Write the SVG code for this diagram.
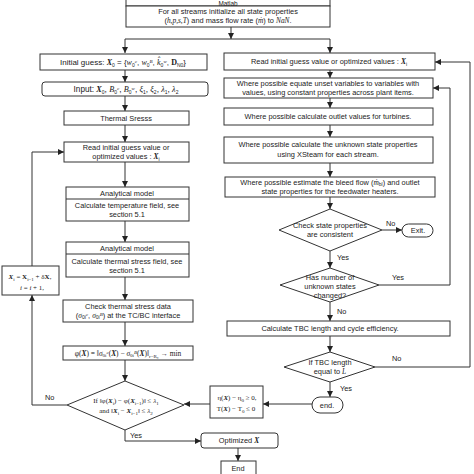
<svg xmlns="http://www.w3.org/2000/svg" width="474" height="474" viewBox="0 0 474 474">
<defs>
<marker id="ah" markerWidth="6" markerHeight="6" refX="6" refY="3" orient="auto" markerUnits="userSpaceOnUse">
<path d="M0,0 L6,3 L0,6 z" fill="#222"/>
</marker>
<style>
.b{fill:#fff;stroke:#333;stroke-width:1}
.t{font-family:"Liberation Sans",Arial,sans-serif;font-size:7.4px;fill:#222;text-anchor:middle}
.m{font-family:"Liberation Serif","Times New Roman",serif;font-style:italic}
.r{font-family:"Liberation Serif","Times New Roman",serif}
.bo{font-weight:bold}
.s{font-size:5px}
.l{font-family:"Liberation Sans",Arial,sans-serif;font-size:7.4px;fill:#222}
.c{fill:none;stroke:#333;stroke-width:1}
.a{marker-end:url(#ah)}
</style>
</defs>
<rect width="474" height="474" fill="#fff"/>

<g id="connectors">
<path class="c a" d="M231,27 V39"/>
<path class="c" d="M125,39 H330"/>
<path class="c a" d="M125,39 V53"/>
<path class="c a" d="M330,39 V53"/>
<path class="c a" d="M125,70 V82"/>
<path class="c a" d="M125,96 V111"/>
<path class="c a" d="M125,125 V142"/>
<path class="c a" d="M125,162 V187"/>
<path class="c a" d="M125,221 V242"/>
<path class="c a" d="M125,277 V300"/>
<path class="c a" d="M125,322 V346"/>
<path class="c a" d="M125,360 V381"/>
<path class="c a" d="M67,405 H32 V295"/>
<path class="c a" d="M32,266 V152 H64"/>
<path class="c a" d="M125,430 V441 H201"/>
<path class="c a" d="M238,448 V461"/>
<path class="c a" d="M210,404 H184"/>
<path class="c a" d="M312,404 H263"/>
<path class="c a" d="M330,70 V78"/>
<path class="c a" d="M330,98 V108"/>
<path class="c a" d="M330,125 V137"/>
<path class="c a" d="M330,163 V177"/>
<path class="c a" d="M330,197 V209"/>
<path class="c a" d="M382,230 H402"/>
<path class="c a" d="M330,251 V268"/>
<path class="c a" d="M379,285 H450 V88 H433"/>
<path class="c a" d="M330,302 V321"/>
<path class="c a" d="M330,336 V352"/>
<path class="c a" d="M375,367 H470 V62 H435"/>
<path class="c a" d="M330,382 V397"/>
</g>

<g id="labels">
<text class="l" x="45" y="400">No</text>
<text class="l" x="130" y="438">Yes</text>
<text class="l" x="386" y="226">No</text>
<text class="l" x="337" y="260">Yes</text>
<text class="l" x="392" y="280">Yes</text>
<text class="l" x="337" y="314">No</text>
<text class="l" x="392" y="361">No</text>
<text class="l" x="340" y="391">Yes</text>
</g>

<g id="matlab">
<rect class="b" x="126" y="-4" width="204" height="10"/>
<text class="t" x="228" y="5.5" style="font-size:6.4px">Matlab</text>
</g>
<g id="init-streams">
<rect class="b" x="126" y="6" width="204" height="21"/>
<text class="t" x="228" y="14">For all streams initialize all state properties</text>
<text class="t" x="228" y="23">(<tspan class="m">h,p,s,T</tspan>) and mass flow rate (<tspan class="m">ṁ</tspan>) to <tspan class="m">NaN</tspan>.</text>
</g>

<g id="initial-guess">
<rect class="b" x="40" y="54" width="167" height="16"/>
<text class="t" x="123" y="65" style="font-size:8px">Initial guess: <tspan class="m bo">X</tspan><tspan class="s" dy="1.5">0</tspan><tspan dy="-1.5"> = {</tspan><tspan class="m">w</tspan><tspan class="s" dy="1.5">0</tspan><tspan class="s m" dy="-4">c</tspan><tspan dy="2.5">, </tspan><tspan class="m">w</tspan><tspan class="s" dy="1.5">0</tspan><tspan class="s m" dy="-4">B</tspan><tspan dy="2.5">, </tspan><tspan class="m">k̂</tspan><tspan class="s" dy="1.5">0</tspan><tspan class="s m" dy="-4">w</tspan><tspan dy="2.5">,  </tspan><tspan class="r bo">D</tspan><tspan class="s" dy="1.5">N0</tspan><tspan dy="-1.5">}</tspan></text>
</g>

<g id="input">
<rect class="b" x="42" y="82" width="166" height="14" rx="3"/>
<text class="t" x="126" y="92" style="font-size:8.2px">Input: <tspan class="m bo">X</tspan><tspan class="s" dy="1.5">0</tspan><tspan dy="-1.5">,  </tspan><tspan class="m">B</tspan><tspan class="s" dy="1.5">0</tspan><tspan class="s m" dy="-4">c</tspan><tspan dy="2.5">,  </tspan><tspan class="m">B</tspan><tspan class="s" dy="1.5">0</tspan><tspan class="s m" dy="-4">w</tspan><tspan dy="2.5">, </tspan><tspan class="m">ξ</tspan><tspan class="s" dy="1.5">1</tspan><tspan dy="-1.5">, </tspan><tspan class="m">ξ</tspan><tspan class="s" dy="1.5">2</tspan><tspan dy="-1.5">,  </tspan><tspan class="m">λ</tspan><tspan class="s" dy="1.5">1</tspan><tspan dy="-1.5">,  </tspan><tspan class="m">λ</tspan><tspan class="s" dy="1.5">2</tspan></text>
</g>

<g id="thermal-stress">
<rect class="b" x="64" y="111" width="125" height="14"/>
<text class="t" x="126" y="121">Thermal Sresss</text>
</g>

<g id="read-left">
<rect class="b" x="64" y="142" width="125" height="20"/>
<text class="t" x="126" y="150">Read initial guess value or</text>
<text class="t" x="126" y="159">optimized values : <tspan class="m bo">X</tspan><tspan class="s" dy="1.5">i</tspan></text>
</g>

<g id="analytical-temp">
<rect class="b" x="66" y="187" width="123" height="34"/>
<line class="c" x1="66" y1="199" x2="189" y2="199"/>
<text class="t" x="127" y="196">Analytical model</text>
<text class="t" x="127" y="208">Calculate temperature field, see</text>
<text class="t" x="127" y="217">section 5.1</text>
</g>

<g id="analytical-stress">
<rect class="b" x="66" y="242" width="123" height="35"/>
<line class="c" x1="66" y1="254" x2="189" y2="254"/>
<text class="t" x="127" y="251">Analytical model</text>
<text class="t" x="127" y="264">Calculate thermal stress field, see</text>
<text class="t" x="127" y="273">section 5.1</text>
</g>

<g id="check-stress">
<rect class="b" x="63" y="300" width="130" height="22"/>
<text class="t" x="128" y="309">Check thermal stress data</text>
<text class="t" x="128" y="318">(<tspan class="m">σ</tspan><tspan class="s" dy="1">0i</tspan><tspan class="s m" dy="-3.5">c</tspan><tspan dy="2.5">, </tspan><tspan class="m">σ</tspan><tspan class="s" dy="1">0i</tspan><tspan class="s m" dy="-3.5">B</tspan><tspan dy="2.5">) at the TC/BC interface</tspan></text>
</g>

<g id="objective">
<rect class="b" x="63" y="346" width="130" height="14"/>
<text class="t" x="128" y="356" style="font-family:'Liberation Serif',serif">φ(<tspan class="m bo">X</tspan>) = ‖<tspan class="m">σ</tspan><tspan class="s" dy="1">0i</tspan><tspan class="s m" dy="-3.5">c</tspan><tspan dy="2.5">(</tspan><tspan class="m bo">X</tspan>) − <tspan class="m">σ</tspan><tspan class="s" dy="1">0i</tspan><tspan class="s m" dy="-3.5">B</tspan><tspan dy="2.5">(</tspan><tspan class="m bo">X</tspan>)‖<tspan class="s" dy="1.5">r=R₀</tspan><tspan dy="-1.5"> → min</tspan></text>
</g>

<g id="convergence">
<polygon class="b" points="125,381 184,405 125,430 67,405"/>
<text class="t" x="126" y="403" style="font-family:'Liberation Serif',serif;font-size:7px">If  ‖φ(<tspan class="m bo">X</tspan><tspan class="s" dy="1.5">i</tspan><tspan dy="-1.5">) − φ(</tspan><tspan class="m bo">X</tspan><tspan class="s" dy="1.5">i−1</tspan><tspan dy="-1.5">)‖ ≤ </tspan><tspan class="m">λ</tspan><tspan class="s" dy="1.5">1</tspan></text>
<text class="t" x="126" y="413" style="font-family:'Liberation Serif',serif;font-size:7px">and  ‖<tspan class="m bo">X</tspan><tspan class="s" dy="1.5">i</tspan><tspan dy="-1.5"> − </tspan><tspan class="m bo">X</tspan><tspan class="s" dy="1.5">i−1</tspan><tspan dy="-1.5">‖ ≤ </tspan><tspan class="m">λ</tspan><tspan class="s" dy="1.5">2</tspan></text>
</g>

<g id="update">
<rect class="b" x="2" y="266" width="57" height="29"/>
<text class="t" x="30" y="279" style="font-family:'Liberation Serif',serif;font-size:7px"><tspan class="m bo">X</tspan><tspan class="s" dy="1.5">i</tspan><tspan dy="-1.5"> = </tspan><tspan class="bo">X</tspan><tspan class="s" dy="1.5">i−1</tspan><tspan dy="-1.5"> + δ</tspan><tspan class="bo">X</tspan>,</text>
<text class="t" x="32" y="290" style="font-family:'Liberation Serif',serif;font-size:7px"><tspan class="m">i</tspan> = <tspan class="m">i</tspan> + 1,</text>
</g>

<g id="constraints">
<rect class="b" x="210" y="386" width="53" height="32"/>
<text class="t" x="237" y="400" style="font-family:'Liberation Serif',serif;font-size:7px">η(<tspan class="m bo">X</tspan>) − η<tspan class="s" dy="1.5">0</tspan><tspan dy="-1.5"> ≥ 0,</tspan></text>
<text class="t" x="236" y="411" style="font-family:'Liberation Serif',serif;font-size:7px">T(<tspan class="m bo">X</tspan>) − T<tspan class="s" dy="1.5">0</tspan><tspan dy="-1.5"> ≤ 0</tspan></text>
</g>

<g id="optimized">
<rect class="b" x="201" y="433" width="77" height="15" rx="3"/>
<text class="t" x="239" y="443">Optimized  <tspan class="m bo" style="font-family:'Liberation Serif',serif">X</tspan></text>
</g>

<g id="end">
<rect class="b" x="221" y="461" width="35" height="16"/>
<text class="t" x="238" y="471">End</text>
</g>

<g id="read-right">
<rect class="b" x="224" y="53" width="211" height="17"/>
<text class="t" x="329" y="64">Read initial guess value or optimized values :  <tspan class="m bo" style="font-family:'Liberation Serif',serif">X</tspan><tspan class="s" dy="1.5">i</tspan></text>
</g>

<g id="equate">
<rect class="b" x="224" y="78" width="209" height="20"/>
<text class="t" x="328" y="86">Where possible equate unset variables to variables with</text>
<text class="t" x="328" y="95">values, using constant properties across plant items.</text>
</g>

<g id="turbines">
<rect class="b" x="224" y="108" width="209" height="17"/>
<text class="t" x="328" y="119">Where possible calculate outlet values for turbines.</text>
</g>

<g id="xsteam">
<rect class="b" x="224" y="137" width="209" height="26"/>
<text class="t" x="328" y="147">Where possible calculate the unknown state properties</text>
<text class="t" x="328" y="157">using XSteam for each stream.</text>
</g>

<g id="bleed">
<rect class="b" x="225" y="177" width="210" height="20"/>
<text class="t" x="330" y="184.5">Where possible estimate the bleed flow (<tspan class="m">ṁ</tspan><tspan class="s" dy="1">bl</tspan><tspan dy="-1">) and outlet</tspan></text>
<text class="t" x="330" y="194">state properties for the feedwater heaters.</text>
</g>

<g id="consistent">
<polygon class="b" points="330,209 382,230 330,251 279,230"/>
<text class="t" x="330" y="228">Check state properties</text>
<text class="t" x="330" y="237">are consistent</text>
</g>

<g id="exit">
<rect class="b" x="402" y="224" width="31" height="13" rx="6.5"/>
<text class="t" x="418" y="233">Exit.</text>
</g>

<g id="unknown-changed">
<polygon class="b" points="330,268 379,285 330,302 280,285"/>
<text class="t" x="330" y="280">Has number of</text>
<text class="t" x="330" y="289">unknown states</text>
<text class="t" x="330" y="298">changed?</text>
</g>

<g id="tbc-calc">
<rect class="b" x="227" y="321" width="223" height="15"/>
<text class="t" x="330" y="331">Calculate TBC length and cycle efficiency.</text>
</g>

<g id="tbc-equal">
<polygon class="b" points="330,352 375,367 330,382 284,367"/>
<text class="t" x="330" y="365">If TBC length</text>
<text class="t" x="330" y="374">equal to <tspan class="m">L</tspan></text>
</g>

<g id="end-right">
<rect class="b" x="312" y="397" width="31" height="16" rx="8"/>
<text class="t" x="327" y="408">end.</text>
</g>
</svg>
